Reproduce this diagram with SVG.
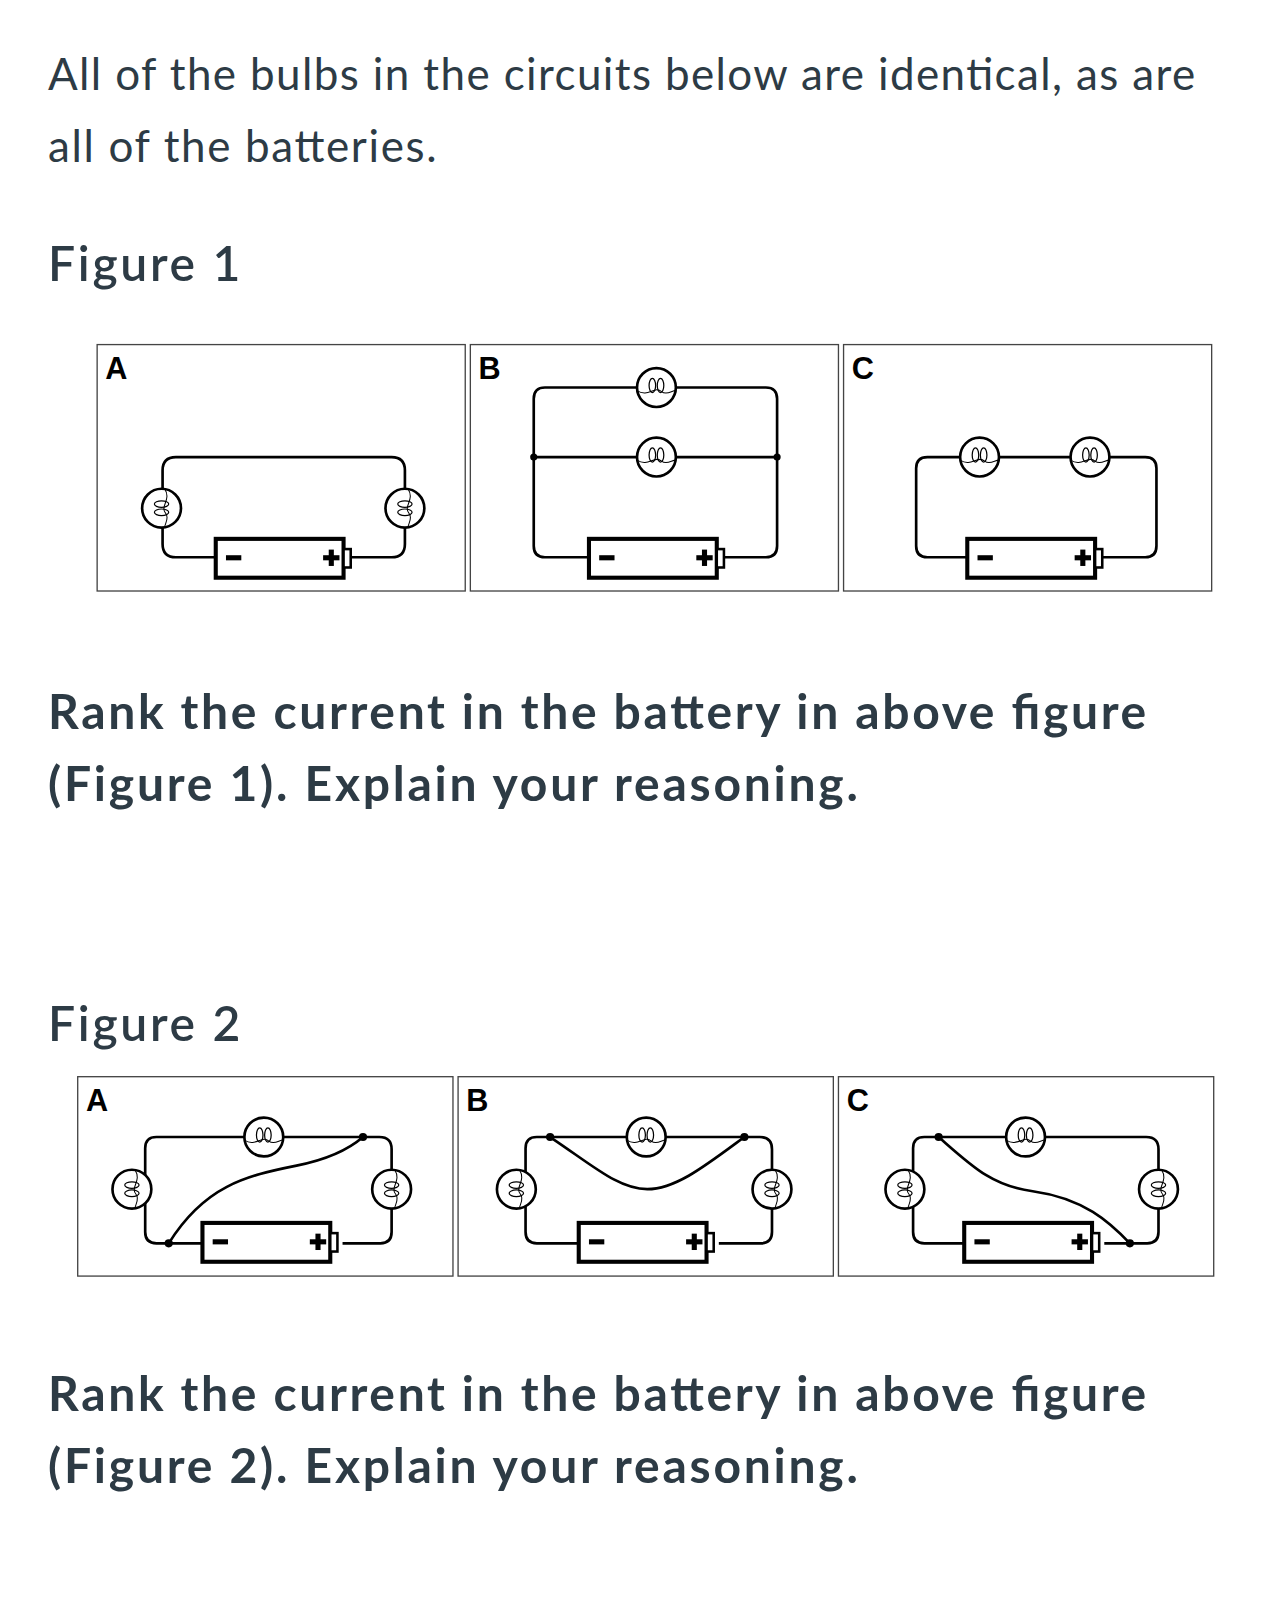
<svg xmlns="http://www.w3.org/2000/svg" xmlns:xlink="http://www.w3.org/1999/xlink" width="1284" height="1602" viewBox="0 0 1284 1602">
<style>
.t{font-family:Lato,"Noto Sans",sans-serif;fill:#2d3b45}
.box{fill:#fff;stroke:#444;stroke-width:1.3}
.w{fill:none;stroke:#000;stroke-width:2.6;stroke-linejoin:round}
.lbl{font-family:"Liberation Sans",Arial,sans-serif;font-weight:bold;font-size:30px;fill:#000}
</style>
<defs>
<g id="bv"><circle r="19" fill="#fff" stroke="#000" stroke-width="2.6"/><ellipse cx="0" cy="-4" rx="7" ry="3.2" fill="none" stroke="#000" stroke-width="1.2"/><ellipse cx="0" cy="4" rx="7" ry="3.2" fill="none" stroke="#000" stroke-width="1.2"/><path d="M3,-19 C10,-8 -2,-2 4,5 C8,10 3,15 3,19" fill="none" stroke="#000" stroke-width="1"/></g>
<g id="bh"><circle r="19" fill="#fff" stroke="#000" stroke-width="2.6"/><ellipse cx="-4" cy="-2" rx="3.2" ry="7" fill="none" stroke="#000" stroke-width="1.2"/><ellipse cx="4" cy="-2" rx="3.2" ry="7" fill="none" stroke="#000" stroke-width="1.2"/><path d="M-19,3 C-8,10 -2,-2 5,4 C10,8 15,3 19,3" fill="none" stroke="#000" stroke-width="1"/></g>
<g id="bat"><rect x="0" y="0" width="125" height="38" fill="#fff" stroke="#000" stroke-width="4"/><rect x="125" y="10" width="7" height="18" fill="#fff" stroke="#000" stroke-width="2.5"/><rect x="10" y="16" width="15" height="5" fill="#000"/><rect x="105" y="16" width="16" height="5" fill="#000"/><rect x="110.5" y="10.5" width="5" height="16" fill="#000"/></g>
</defs>
<rect width="1284" height="1602" fill="#fff"/>
<g transform="scale(1.0225)">
<g id="texts">
<text class="t" x="47" y="88" font-size="43" textLength="1122" lengthAdjust="spacing">All of the bulbs in the circuits below are identical, as are</text>
<text class="t" x="47" y="158" font-size="43" textLength="380" lengthAdjust="spacing">all of the batteries.</text>
<text class="t" x="47" y="275" font-size="47" font-weight="600" textLength="188" lengthAdjust="spacing">Figure 1</text>
<text class="t" x="47" y="713" font-size="47" font-weight="bold" textLength="1074" lengthAdjust="spacing">Rank the current in the battery in above figure</text>
<text class="t" x="47" y="783" font-size="47" font-weight="bold" textLength="792" lengthAdjust="spacing">(Figure 1). Explain your reasoning.</text>
<text class="t" x="47" y="1018" font-size="47" font-weight="600" textLength="188" lengthAdjust="spacing">Figure 2</text>
<text class="t" x="47" y="1380" font-size="47" font-weight="bold" textLength="1074" lengthAdjust="spacing">Rank the current in the battery in above figure</text>
<text class="t" x="47" y="1450" font-size="47" font-weight="bold" textLength="792" lengthAdjust="spacing">(Figure 2). Explain your reasoning.</text>
</g>
<g id="fig1A"><rect class="box" x="95" y="337" width="360" height="241"/><text class="lbl" x="103" y="371">A</text>
<path class="w" d="M211,545 H172 Q159,545 159,532 V460 Q159,447 172,447 H383 Q396,447 396,460 V532 Q396,545 383,545 H343"/>
<use xlink:href="#bv" x="158" y="497"/><use xlink:href="#bv" x="396" y="497"/><use xlink:href="#bat" x="211" y="527"/></g>
<g id="fig1B"><rect class="box" x="460" y="337" width="360" height="241"/><text class="lbl" x="468" y="371">B</text>
<path class="w" d="M576,545 H533 Q522,545 522,534 V390 Q522,379 533,379 H749 Q760,379 760,390 V534 Q760,545 749,545 H708 M522,447 H760"/>
<circle cx="522" cy="447" r="3.5"/><circle cx="760" cy="447" r="3.5"/>
<use xlink:href="#bh" x="642" y="379"/><use xlink:href="#bh" x="642" y="447"/><use xlink:href="#bat" x="576" y="527"/></g>
<g id="fig1C"><rect class="box" x="825" y="337" width="360" height="241"/><text class="lbl" x="833" y="371">C</text>
<path class="w" d="M946,545 H907 Q896,545 896,534 V458 Q896,447 907,447 H1120 Q1131,447 1131,458 V534 Q1131,545 1120,545 H1078"/>
<use xlink:href="#bh" x="958" y="447"/><use xlink:href="#bh" x="1066" y="447"/><use xlink:href="#bat" x="946" y="527"/></g>
<g id="fig2A"><rect class="box" x="76" y="1053" width="367" height="195"/><text class="lbl" x="84" y="1087">A</text>
<path class="w" d="M198,1216 H153 Q142,1216 142,1205 V1123 Q142,1112 153,1112 H371 Q383,1112 383,1124 V1205 Q383,1216 372,1216 H335"/>
<path class="w" d="M165,1216 C200,1160 240,1150 290,1140 C320,1134 340,1125 355,1112"/>
<circle cx="165" cy="1216" r="4"/><circle cx="355" cy="1112" r="4"/>
<use xlink:href="#bh" x="258" y="1112"/><use xlink:href="#bv" x="129" y="1163"/><use xlink:href="#bv" x="383" y="1163"/><use xlink:href="#bat" x="198" y="1196"/></g>
<g id="fig2B"><rect class="box" x="448" y="1053" width="367" height="195"/><text class="lbl" x="456" y="1087">B</text>
<path class="w" d="M566,1216 H525 Q514,1216 514,1205 V1123 Q514,1112 525,1112 H743 Q755,1112 755,1124 V1205 Q755,1216 744,1216 H703"/>
<path class="w" d="M538,1112 C580,1140 605,1163 633,1163 C661,1163 690,1140 728,1112"/>
<circle cx="538" cy="1112" r="4"/><circle cx="728" cy="1112" r="4"/>
<use xlink:href="#bh" x="632" y="1112"/><use xlink:href="#bv" x="505" y="1163"/><use xlink:href="#bv" x="755" y="1163"/><use xlink:href="#bat" x="566" y="1196"/></g>
<g id="fig2C"><rect class="box" x="820" y="1053" width="367" height="195"/><text class="lbl" x="828" y="1087">C</text>
<path class="w" d="M943,1216 H904 Q893,1216 893,1205 V1123 Q893,1112 904,1112 H1121 Q1133,1112 1133,1124 V1205 Q1133,1216 1122,1216 H1080"/>
<path class="w" d="M918,1112 C950,1140 970,1160 1010,1165 C1060,1172 1085,1195 1105,1216"/>
<circle cx="918" cy="1112" r="4"/><circle cx="1105" cy="1216" r="4"/>
<use xlink:href="#bh" x="1003" y="1112"/><use xlink:href="#bv" x="885" y="1163"/><use xlink:href="#bv" x="1133" y="1163"/><use xlink:href="#bat" x="943" y="1196"/></g>
</g>
</svg>
